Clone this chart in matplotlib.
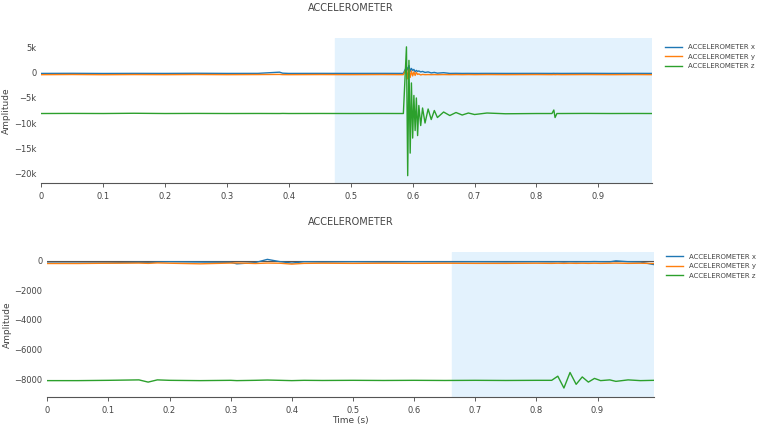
import matplotlib
matplotlib.use("Agg")
import matplotlib.pyplot as plt

# ---- top chart data (hand-read keypoints) ----
t1 = [0.00, 0.05, 0.10, 0.15, 0.20, 0.25, 0.30, 0.35, 0.385, 0.39, 0.40, 0.45, 0.50, 0.55, 0.585,
      0.590, 0.592, 0.594, 0.596, 0.598, 0.600, 0.602, 0.604, 0.606, 0.608, 0.610, 0.613, 0.616,
      0.620, 0.625, 0.630, 0.635, 0.640, 0.650, 0.660, 0.670, 0.680, 0.690, 0.700, 0.720, 0.750,
      0.800, 0.825, 0.828, 0.830, 0.833, 0.840, 0.880, 0.920, 0.960, 0.987]
x1 = [-100, -80, -110, -90, -100, -70, -100, -90, 150, -50, -100, -90, -100, -90, -100,
      1200, 600, 1500, 300, 900, 500, 700, 200, 500, 300, 400, 200, 300,
      100, 200, 0, 100, -50, 50, -100, -80, -100, -90, -100, -90, -100,
      -90, -100, -80, -100, -90, -100, -80, -100, -90, -100]
y1 = [-350, -320, -360, -330, -350, -320, -350, -330, -300, -340, -350, -330, -350, -330, -350,
      900, -1200, 700, -900, 400, -600, 200, -500, 100, -300, -200, -400, -300,
      -350, -330, -350, -330, -350, -330, -350, -330, -350, -330, -350, -330, -350,
      -330, -350, -330, -350, -330, -350, -330, -350, -330, -350]
z1 = [-8100, -8080, -8100, -8050, -8100, -8080, -8100, -8090, -8100, -8080, -8100, -8090, -8100, -8090, -8100,
      5200, -20500, 2500, -16000, -2000, -13000, -4500, -11500, -5000, -12500, -6500, -10500, -7000,
      -10000, -7200, -9300, -7500, -8900, -7800, -8500, -7900, -8400, -8000, -8300, -8000, -8150,
      -8100, -8100, -7400, -8900, -8100, -8100, -8080, -8100, -8090, -8100]

# ---- bottom chart data ----
t2 = [0.00, 0.05, 0.10, 0.15, 0.165, 0.18, 0.20, 0.25, 0.30, 0.31, 0.34, 0.36, 0.38, 0.40, 0.42,
      0.45, 0.50, 0.55, 0.60, 0.65, 0.70, 0.75, 0.80, 0.825, 0.835, 0.845, 0.855, 0.865, 0.875,
      0.885, 0.895, 0.905, 0.92, 0.93, 0.95, 0.97, 0.992]
x2 = [-150, -150, -140, -100, -120, -80, -60, -80, -100, -200, -120, 100, -50, -150, -60,
      -80, -60, -80, -60, -70, -60, -70, -60, -70, -60, -80, -60, -70, -60,
      -60, -50, -60, -70, 0, -60, -80, -250]
y2 = [-180, -180, -160, -150, -170, -140, -160, -200, -150, -140, -180, -150, -160, -220, -170,
      -160, -170, -160, -170, -160, -170, -170, -160, -170, -160, -170, -160, -170, -160,
      -170, -160, -170, -160, -150, -170, -160, -180]
z2 = [-8100, -8100, -8080, -8050, -8200, -8050, -8080, -8100, -8080, -8100, -8080, -8060, -8080, -8100, -8080,
      -8090, -8080, -8090, -8080, -8090, -8080, -8090, -8080, -8080, -7800, -8600, -7550, -8350, -7850,
      -8200, -7950, -8100, -8050, -8150, -8050, -8100, -8080]

blue, orange, green = '#1f77b4', '#ff7f0e', '#2ca02c'
grey = '#444444'
plt.rcParams['font.family'] = ['DejaVu Sans']

fig = plt.figure(figsize=(7.62, 4.3), dpi=100)
ax1 = fig.add_axes([0.054, 0.574, 0.802, 0.338])
ax2 = fig.add_axes([0.062, 0.077, 0.796, 0.337])

def style(ax):
    for s in ['top', 'right']:
        ax.spines[s].set_visible(False)
    ax.spines['left'].set_visible(False)
    ax.spines['bottom'].set_color('#555555')
    ax.tick_params(labelsize=6, colors=grey, length=3, width=0.6)
    ax.tick_params(axis='y', length=0)

ticks = [0, 0.1, 0.2, 0.3, 0.4, 0.5, 0.6, 0.7, 0.8, 0.9]
tick_labels = ['0', '0.1', '0.2', '0.3', '0.4', '0.5', '0.6', '0.7', '0.8', '0.9']

ax1.axvspan(0.475, 0.987, color='#e3f2fd', zorder=0)
ax1.plot(t1, x1, color=blue, lw=1, label='ACCELEROMETER x')
ax1.plot(t1, y1, color=orange, lw=1, label='ACCELEROMETER y')
ax1.plot(t1, z1, color=green, lw=1, label='ACCELEROMETER z')
ax1.set_xlim(0, 0.987)
ax1.set_ylim(-22000, 7000)
ax1.set_xticks(ticks)
ax1.set_xticklabels(tick_labels)
ax1.set_yticks([5000, 0, -5000, -10000, -15000, -20000])
ax1.set_yticklabels(['5k', '0', '−5k', '−10k', '−15k', '−20k'])
ax1.set_ylabel('Amplitude', fontsize=6.5, color=grey, labelpad=2)
style(ax1)
ax1.legend(loc='upper left', bbox_to_anchor=(1.01, 1.0), fontsize=5, frameon=False,
           labelcolor=grey, handlelength=2.5)

ax2.axvspan(0.662, 0.992, color='#e3f2fd', zorder=0)
ax2.axhline(0, color='#555555', lw=0.8, zorder=1)
ax2.plot(t2, x2, color=blue, lw=1, label='ACCELEROMETER x')
ax2.plot(t2, y2, color=orange, lw=1, label='ACCELEROMETER y')
ax2.plot(t2, z2, color=green, lw=1, label='ACCELEROMETER z')
ax2.set_xlim(0, 0.992)
ax2.set_ylim(-9200, 600)
ax2.set_xticks(ticks)
ax2.set_xticklabels(tick_labels)
ax2.set_yticks([0, -2000, -4000, -6000, -8000])
ax2.set_yticklabels(['0', '−2000', '−4000', '−6000', '−8000'])
ax2.set_ylabel('Amplitude', fontsize=6.5, color=grey, labelpad=2)
style(ax2)
ax2.legend(loc='upper left', bbox_to_anchor=(1.01, 1.03), fontsize=5, frameon=False,
           labelcolor=grey, handlelength=2.5)

fig.text(0.46, 0.981, 'ACCELEROMETER', fontsize=7, color=grey, ha='center', va='center')
fig.text(0.46, 0.484, 'ACCELEROMETER', fontsize=7, color=grey, ha='center', va='center')
fig.text(0.46, 0.021, 'Time (s)', fontsize=6.5, color=grey, ha='center', va='center')

fig.savefig('out.png', dpi=100)
